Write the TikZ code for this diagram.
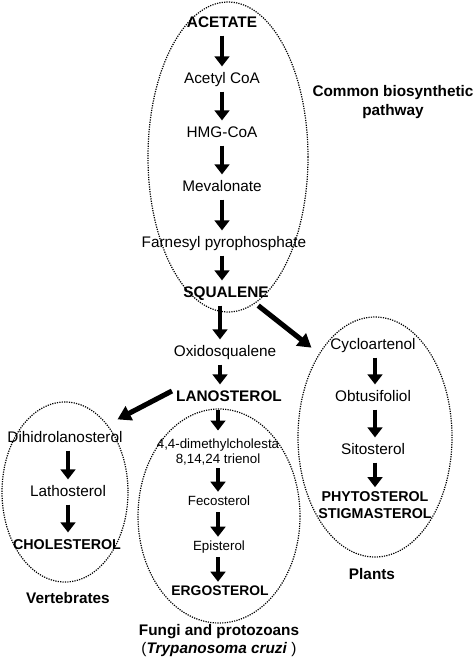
\documentclass[tikz,border=0pt]{standalone}
\usepackage{fontspec}
\setmainfont{Liberation Sans}
\usetikzlibrary{arrows.meta}

\begin{document}
\begin{tikzpicture}[x=0.75pt,y=0.75pt,yscale=-1,xscale=1,
  stage/.style={inner xsep=1pt,inner ysep=3.5pt,text height=9pt,text depth=2.5pt,font=\fontsize{11.5}{13.5}\selectfont},
  keystage/.style={stage,font=\fontsize{11.5}{13.5}\selectfont\bfseries},
  minor/.style={inner xsep=1pt,inner ysep=2.75pt,text height=7.5pt,text depth=2pt,font=\fontsize{10}{11.25}\selectfont},
  pathwayring/.style={draw,line width=0.9pt,dash pattern=on 0.9pt off 0.9pt},
  flow/.style={line width=3.2pt,-{Triangle[width=11pt,length=7.5pt]}},
  branch/.style={line width=3.8pt,-{Triangle[width=11.5pt,length=10pt]}},
  caption/.style={align=center,inner sep=1pt,font=\fontsize{11.5}{14}\selectfont\bfseries}]
\useasboundingbox (0,0) rectangle (474,660);

%Ellipses round the pathways
\draw[pathwayring] (228,157) ellipse [x radius=80, y radius=155];
\draw[pathwayring] (65,492) ellipse [x radius=63, y radius=90];
\draw[pathwayring] (219,516) ellipse [x radius=81, y radius=107];
\draw[pathwayring] (375,437) ellipse [x radius=77, y radius=120];

% Common pathway
\node[keystage] (acetate) at (222,23) {ACETATE};
\node[stage] (acetyl) at (222,79) {Acetyl CoA};
\node[stage] (hmg) at (222,133) {HMG-CoA};
\node[stage] (meva) at (222,187) {Mevalonate};
\node[stage] (farnesyl) at (224,243) {Farnesyl pyrophosphate};
\node[keystage] (squalene) at (226,293) {SQUALENE};
\node[stage] (oxido) at (225,352) {Oxidosqualene};
\node[keystage] (lano) at (229,397) {LANOSTEROL};
\node[caption] (common) at (393,102) {Common biosynthetic\\pathway};

% Vertebrates
\node[stage] (dihidro) at (65,438) {Dihidrolanosterol};
\node[stage] (latho) at (68,492) {Lathosterol};
\node[keystage,font=\fontsize{10.7}{13}\selectfont\bfseries] (chol) at (67,545) {CHOLESTEROL};
\node[caption] (vert) at (68,598) {Vertebrates};

% Fungi and protozoans
\node[align=center,inner xsep=1pt,inner ysep=2pt,font=\fontsize{10}{11.25}\selectfont] (dimethyl) at (218,452) {4,4-dimethylcholesta\\8,14,24 trienol};
\node[minor] (feco) at (219,502) {Fecosterol};
\node[minor] (epi) at (219,547) {Episterol};
\node[minor,font=\fontsize{10.4}{12}\selectfont\bfseries] (ergo) at (220,592) {ERGOSTEROL};
\node[caption,font=\fontsize{11.5}{13.5}\selectfont\bfseries] (fungi) at (219,641) {Fungi and protozoans\\{\normalfont(}\textit{Trypanosoma cruzi}~{\normalfont)}};

% Plants
\node[stage] (cyclo) at (373,345) {Cycloartenol};
\node[stage] (obtus) at (373,397) {Obtusifoliol};
\node[stage] (sito) at (373,450) {Sitosterol};
\node[align=center,inner xsep=1pt,inner ysep=3pt,font=\fontsize{10.7}{12.75}\selectfont\bfseries] (phyto) at (375,505) {PHYTOSTEROL\\STIGMASTEROL};
\node[caption] (plants) at (372,574) {Plants};

% Arrows, kept straight down each column
\draw[flow] (acetate.south) -- (acetate |- acetyl.north);
\draw[flow] (acetate |- acetyl.south) -- (acetate |- hmg.north);
\draw[flow] (acetate |- hmg.south) -- (acetate |- meva.north);
\draw[flow] (acetate |- meva.south) -- (acetate |- farnesyl.north);
\draw[flow] (acetate |- farnesyl.south) -- (acetate |- squalene.north);
\draw[flow] ([xshift=-1.5pt]acetate |- squalene.south) -- ([xshift=-1.5pt]acetate |- oxido.north);
\draw[flow] ([xshift=-1.5pt]acetate |- oxido.south) -- ([xshift=-1.5pt]acetate |- lano.north);
\draw[flow,shorten >=4pt] (dimethyl |- lano.south) -- (dimethyl.north);
\draw[flow] (dimethyl.south) -- (dimethyl |- feco.north);
\draw[flow] (dimethyl |- feco.south) -- (dimethyl |- epi.north);
\draw[flow] (dimethyl |- epi.south) -- (dimethyl |- ergo.north);
\draw[flow] (latho |- dihidro.south) -- (latho.north);
\draw[flow] (latho.south) -- (latho |- chol.north);
\draw[flow] (phyto |- cyclo.south) -- (phyto |- obtus.north);
\draw[flow] (phyto |- obtus.south) -- (phyto |- sito.north);
\draw[flow] (phyto |- sito.south) -- (phyto.north);
\draw[branch] ([xshift=-9pt]squalene.south east) -- ([xshift=-13pt,yshift=2pt]cyclo.west);
\draw[branch] ([xshift=-2pt,yshift=-4.5pt]lano.west) -- ([xshift=-5pt,yshift=-4.5pt]dihidro.north east);

\end{tikzpicture}
\end{document}
